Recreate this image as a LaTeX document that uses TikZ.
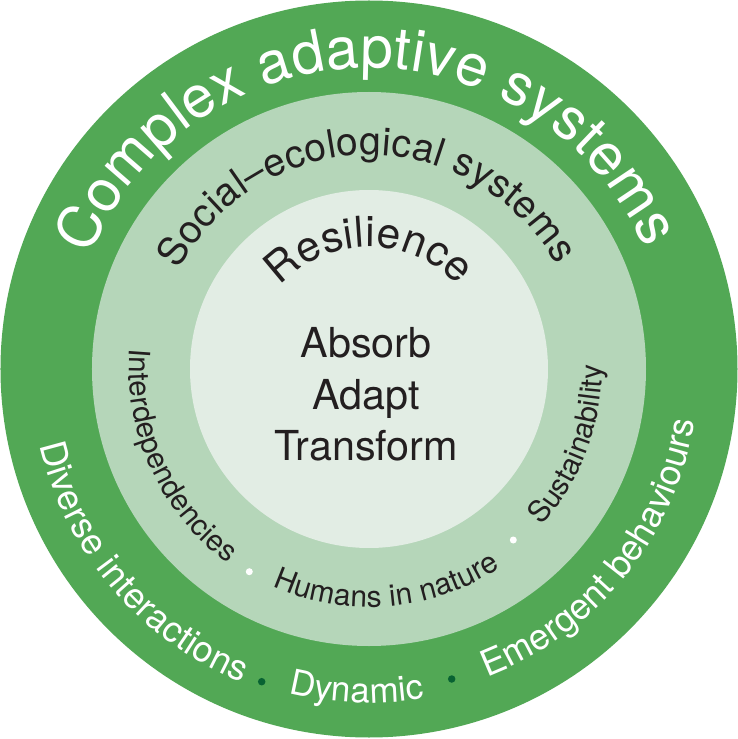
\documentclass[tikz,border=0pt]{standalone}
\usepackage{fontspec}
\setmainfont{TeX Gyre Heros}
\usetikzlibrary{decorations.text}
\definecolor{cgreen}{RGB}{82,168,85}
\definecolor{cmid}{RGB}{181,214,185}
\definecolor{cin}{RGB}{226,237,228}
\definecolor{cdark}{RGB}{8,98,50}
\definecolor{ctext}{RGB}{35,31,32}
\tikzset{
  bigword/.style={anchor=base, text=ctext, font=\fontsize{41.3}{41.3}\selectfont},
  darkdot/.style={circle, fill=cdark, inner sep=0pt, minimum size=7.5pt},
  whitedot/.style={circle, fill=white, inner sep=0pt, minimum size=7pt}
}
% #1 radius, #2 start angle, #3 end angle, #4 font size, #5 colour, #6 text
\newcommand\ArcText[6]{%
  \path[decorate, decoration={text along path,
      text={|\fontsize{#4}{#4}\selectfont\color{#5}|#6},
      text align=fit to path}]
      (#2:#1pt) arc[start angle=#2, end angle=#3, radius=#1pt];}
\begin{document}
\begin{tikzpicture}[x=1pt,y=1pt]
\useasboundingbox (-369pt,-370pt) rectangle (369pt,369pt);
\fill[cgreen] (0pt,0pt) circle[radius=368.5pt];
\fill[cmid] (0pt,0pt) circle[radius=277pt];
\fill[cin] (0pt,0pt) circle[radius=179pt];

% top texts (clockwise)
\ArcText{301}{158}{23.5}{58.5}{white}{Complex adaptive systems}
\ArcText{214}{152.5}{29}{39}{ctext}{Social–ecological systems}
\ArcText{122}{137}{43}{42.5}{ctext}{Resilience}

% bottom texts (counter-clockwise)
\ArcText{240}{175}{234}{29.5}{ctext}{Interdependencies}
\ArcText{238}{246}{303.6}{30}{ctext}{Humans in nature}
\ArcText{233}{317.7}{361}{29.5}{ctext}{Sustainability}
\ArcText{338}{193}{248}{36}{white}{Diverse interactions}
\ArcText{334}{256}{279.7}{35}{white}{Dynamic}
\ArcText{330}{291}{351}{36}{white}{Emergent behaviours}

% separators
\node[darkdot] (d1) at (-107.3pt,-312.7pt) {};
\node[darkdot] (d2) at (82.7pt,-310pt) {};
\node[whitedot] (w1) at (-119.7pt,-202.7pt) {};
\node[whitedot] (w2) at (144.3pt,-171pt) {};

% centre words
\node[bigword] (absorb) at (-3pt,12pt) {Absorb};
\node[bigword] (adapt) at (-3pt,-40pt) {Adapt};
\node[bigword] (transform) at (-3pt,-91.5pt) {Transform};
\end{tikzpicture}
\end{document}
